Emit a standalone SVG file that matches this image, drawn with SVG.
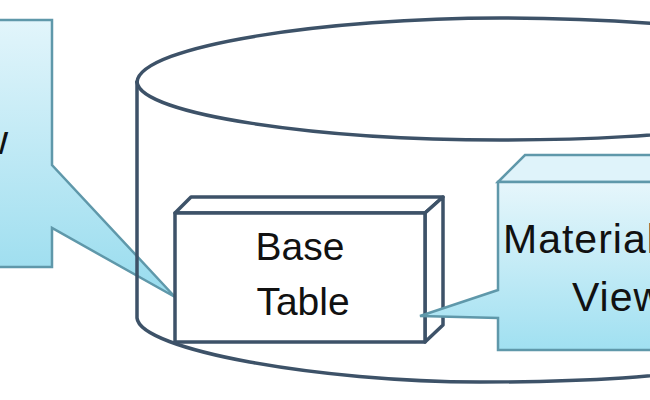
<svg xmlns="http://www.w3.org/2000/svg" width="650" height="400" viewBox="0 0 650 400">
<style>
.cyl{fill:none;stroke:#3d5268;stroke-width:3.5;stroke-linecap:round}
.box{fill:#ffffff;stroke:#3d5268;stroke-width:3.5;stroke-linejoin:round}
.call{stroke:#5f98aa;stroke-width:2.5;stroke-linejoin:miter}
.lbl{font-family:"Liberation Sans",Arial,sans-serif;font-size:39px;fill:#111111}
.big{font-size:41px;letter-spacing:1px}
</style>
<defs>
<linearGradient id="gL" x1="0" y1="0" x2="0" y2="1">
<stop offset="0" stop-color="#e2f5fb"/>
<stop offset="1" stop-color="#98dcee"/>
</linearGradient>
<linearGradient id="gR" x1="0" y1="0" x2="0" y2="1">
<stop offset="0" stop-color="#e6f6fb"/>
<stop offset="1" stop-color="#a0e0f1"/>
</linearGradient>
</defs>
<rect width="650" height="400" fill="#ffffff"/>

<g id="view-callout">
<path class="call" fill="url(#gL)" d="M-10,20 L52,20 L52,165 L175,297 L52,228 L52,267 L-10,267 Z"/>
<text class="lbl big" x="9" y="154" text-anchor="end">View</text>
</g>

<g id="cylinder">
<path class="cyl" d="M137,82 C140,45 330,18 500,18 C600,18 680,24 760,34"/>
<path class="cyl" d="M137,82 C140,115 320,140 500,140 C600,140 660,135 720,128"/>
<path class="cyl" d="M137,82 L137,318 C140,350 320,382 480,382 C600,382 660,376 720,368"/>
</g>

<g id="base-table">
<path class="box" d="M175,213 L191,197 L443,197 L425,213 Z"/>
<path class="box" d="M425,213 L443,197 L443,325 L425,342 Z"/>
<rect class="box" x="175" y="213" width="250" height="129"/>
<text class="lbl" x="300" y="260" text-anchor="middle">Base</text>
<text class="lbl" x="303" y="315" text-anchor="middle">Table</text>
</g>

<g id="mv-callout">
<path class="call" fill="#dff3fa" d="M498,182 L525,155 L670,155 L670,182 Z"/>
<path class="call" fill="url(#gR)" d="M670,182 L498,182 L498,290 L420,316 L498,318 L498,350 L670,350 Z"/>
<text class="lbl big" x="503" y="253">Materialized</text>
<text class="lbl big" x="572" y="311">View</text>
</g>
</svg>
